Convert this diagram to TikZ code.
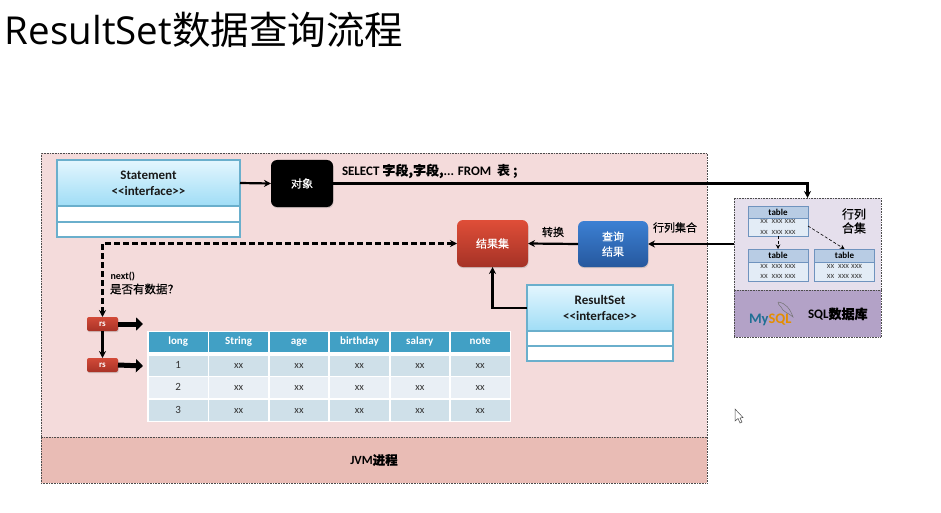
\documentclass[tikz,border=0pt]{standalone}
\usepackage{fontspec}
\setmainfont{Carlito}
\newfontfamily\cjk{Noto Sans CJK SC}
\newfontfamily\cjkm[FakeBold=0.4]{Noto Sans CJK SC}
\newfontfamily\titlefont{Open Sans}
\usetikzlibrary{arrows.meta,shadows}

\definecolor{pinkbg}{HTML}{F4DBDB}
\definecolor{jvmbg}{HTML}{E9BCB5}
\definecolor{ifaceline}{HTML}{6AAFCC}
\definecolor{ifacetop}{HTML}{E4F6FE}
\definecolor{ifacebot}{HTML}{9FDDF6}
\definecolor{tblhead}{HTML}{41A0C5}
\definecolor{tblodd}{HTML}{CFE0E9}
\definecolor{tbleven}{HTML}{E9EFF5}
\definecolor{minihead}{HTML}{B8CCE4}
\definecolor{minibody}{HTML}{E3ECF6}
\definecolor{miniline}{HTML}{6F93BE}
\definecolor{dbtop}{HTML}{E5DFEC}
\definecolor{dbbot}{HTML}{B3A2C7}
\definecolor{rstop}{HTML}{D24A38}
\definecolor{rsbot}{HTML}{A83226}
\definecolor{restop}{HTML}{DF4E38}
\definecolor{resbot}{HTML}{A53226}
\definecolor{qrytop}{HTML}{3C80D3}
\definecolor{qrybot}{HTML}{26589E}

\newcommand{\ifacetag}{\textless\kern0pt\textless\kern0pt interface\textgreater\kern0pt\textgreater}

\tikzset{
    box/.style={inner sep=0pt, outer sep=0pt, align=center},
    softshadow/.style={drop shadow={shadow xshift=0.6pt, shadow yshift=-1.2pt, opacity=0.3}},
    region/.style={box, draw=black!70, densely dotted, line width=0.6pt, minimum width=666pt},
    ifacehead/.style={box, softshadow, draw=ifaceline, line width=1.3pt, top color=ifacetop, bottom color=ifacebot,
        font=\bfseries\fontsize{13}{16}\selectfont, text=black!90},
    ifacerow/.style={box, softshadow, draw=ifaceline, line width=1.3pt, fill=white},
    flow/.style={box, softshadow, rounded corners=6pt, text=white, font=\cjkm\fontsize{11}{15}\selectfont},
    rsbox/.style={box, softshadow, rounded corners=2pt, minimum width=31pt, minimum height=14pt, top color=rstop, bottom color=rsbot,
        text=white, font=\bfseries\fontsize{9}{9}\selectfont},
    label/.style={box, font=\cjkm\fontsize{11}{14}\selectfont, text=black},
    cell/.style={box, minimum width=58.6pt, text=black!80, text height=7pt, text depth=2pt},
    mini/.style={box, softshadow, draw=miniline, line width=0.7pt, minimum width=60pt, font=\fontsize{8.5}{10.5}\selectfont, text=black!75},
    minititle/.style={mini, fill=minihead, font=\bfseries\fontsize{9}{10}\selectfont, text=black},
    flowline/.style={line width=2.2pt, -{Stealth[length=7pt,width=7pt]}},
    fatline/.style={line width=5pt, -{Triangle[length=7pt,width=13pt]}},
    miniflow/.style={densely dashed, line width=0.6pt, -{Stealth[length=4.5pt,width=4.5pt]}}
}

\begin{document}
\begin{tikzpicture}[x=1pt,y=-1pt]

    % Page size
    \useasboundingbox[fill=white] (0,0) rectangle (941,513);

    % Title
    \node[box, anchor=west] (title) at (5,30) {\fontsize{38.5}{44}\selectfont{\titlefont ResultSet}{\cjk 数据查询流程}};

    % JVM process area
    \node[region, fill=pinkbg, minimum height=284pt] (jvmarea) at (374,295) {};
    \node[region, fill=jvmbg, minimum height=46pt, font=\bfseries\fontsize{12.5}{14}\selectfont] (jvm) at (374,460) {JVM{\cjkm 进程}};

    % Statement interface
    \node[ifacerow, minimum width=183pt, minimum height=15pt] (stmtB) at (148.5,229.5) {};
    \node[ifacerow, minimum width=183pt, minimum height=16pt] (stmtA) at (148.5,214) {};
    \node[ifacehead, minimum width=183pt, minimum height=46pt] (stmt) at (148.5,183) {Statement\\\ifacetag};

    % ResultSet interface
    \node[ifacerow, minimum width=146pt, minimum height=15pt] (rsiB) at (600,353.5) {};
    \node[ifacerow, minimum width=146pt, minimum height=15pt] (rsiA) at (600,338.5) {};
    \node[ifacehead, minimum width=146pt, minimum height=46pt] (rsi) at (600,308) {ResultSet\\\ifacetag};

    % Flow boxes
    \node[flow, fill=black, minimum width=62pt, minimum height=47pt] (obj) at (302,183.5) {对象};
    \node[flow, top color=restop, bottom color=resbot, minimum width=71pt, minimum height=47pt] (results) at (492.5,243.5) {结果集};
    \node[flow, top color=qrytop, bottom color=qrybot, minimum width=70pt, minimum height=46pt] (query) at (613,244) {查询\\结果};

    % Database
    \node[box, draw=black!70, densely dotted, line width=0.6pt, fill=dbtop, minimum width=147pt, minimum height=92pt] (dbA) at (807.5,244) {};
    \node[box, draw=black!70, densely dotted, line width=0.6pt, fill=dbbot, minimum width=147pt, minimum height=47pt] (dbB) at (807.5,313.5) {};

    % Tables in the database
    \node[minititle, minimum height=12pt] (miniA) at (778,212) {table};
    \node[mini, fill=minibody, minimum height=18pt, anchor=north] (miniAb) at (miniA.south) {xx\ \ xxx xxx\\xx\ \ xxx xxx};
    \node[minititle, minimum height=13pt] (miniB) at (778,255.5) {table};
    \node[mini, fill=minibody, minimum height=19pt, anchor=north] (miniBb) at (miniB.south) {xx\ \ xxx xxx\\xx\ \ xxx xxx};
    \node[minititle, minimum height=13pt] (miniC) at (844.5,255.5) {table};
    \node[mini, fill=minibody, minimum height=19pt, anchor=north] (miniCb) at (miniC.south) {xx\ \ xxx xxx\\xx\ \ xxx xxx};
    \coordinate (miniAr) at (808,226);
    \draw[miniflow] (miniAb.south) -- (miniB.north);
    \draw[miniflow] (miniAr) -- (miniC.north);
    \node[label, font=\cjkm\fontsize{12}{14}\selectfont] (rowcols) at (854,221) {行列\\合集};

    % MySQL logo
    \node[box, anchor=west, font=\bfseries\fontsize{14.5}{14}\selectfont] (mysql) at (749,320) {\textcolor[HTML]{1F6F94}{My}\textcolor[HTML]{E48E00}{SQL}};
    \draw[line width=0.5pt, draw=black!55] (778,302) .. controls (786,303) and (790,309) .. (793,317) .. controls (787,312) and (783,312) .. (781,307) .. controls (779,305) and (778,304) .. (778,302);
    \node[box, anchor=west, font=\bfseries\fontsize{13}{14}\selectfont] (sqldb) at (808,314) {SQL{\cjkm 数据库}};

    % Connectors
    \draw[flowline] (stmt.east) -- (obj.west);
    \draw[flowline] (obj.east) -| (dbA.north);
    \draw[flowline] (query.east -| dbA.west) -- (query.east);
    \draw[flowline] (query.west) -- (results.east);
    \draw[flowline] (rsi.west) -| (results.south);

    % Cursor nodes
    \node[rsbox] (rsA) at (102.5,324) {rs};
    \node[rsbox] (rsB) at (102.5,365) {rs};
    \coordinate (rsAend) at (143,324);
    \coordinate (rsBend) at (143,366);
    \draw[line width=2.5pt, dash pattern=on 6pt off 3pt, {Stealth[length=7pt,width=7pt]}-{Stealth[length=7pt,width=7pt]}] (rsA.north) |- (results.west);
    \draw[flowline] (rsA.south) -- (rsB.north);
    \draw[fatline] (rsA.east) -- (rsAend);
    \draw[fatline] (rsB.east) -- (rsBend);

    % Labels
    \node[box, anchor=west, font=\bfseries\fontsize{13}{14}\selectfont] (sql) at (342,171) {SELECT {\cjkm 字段,字段,}... FROM {\cjk\ 表 ;}};
    \node[label] (conv) at (553,232) {转换};
    \node[label] (rowset) at (675,227.5) {行列集合};
    \node[box, anchor=west, font=\bfseries\fontsize{10}{10}\selectfont] (next) at (110.5,277) {next()};
    \node[label, anchor=west, font=\cjkm\fontsize{11.5}{14}\selectfont] (hasdata) at (110,289) {是否有数据？};

    % Result table
    \node[box, fill=white, minimum width=364pt, minimum height=91pt] (tbl) at (329,376.5) {};
    \foreach \i/\name in {0/long,1/String,2/age,3/birthday,4/salary,5/note} {
        \node[cell, fill=tblhead, minimum height=20pt, text=white, font=\bfseries\fontsize{11}{12}\selectfont] (head\i) at (178.2+60.4*\i,342) {\name};
    }
    \foreach \r/\y/\h/\col in {1/366/20/tblodd,2/387.5/21/tbleven,3/410.5/21/tblodd} {
        \node[cell, fill=\col, minimum height=\h pt, font=\fontsize{11}{12}\selectfont] (row\r-0) at (178.2,\y) {\r};
        \foreach \i in {1,...,5} {
            \node[cell, fill=\col, minimum height=\h pt, font=\fontsize{10.5}{12}\selectfont] (row\r-\i) at (178.2+60.4*\i,\y) {xx};
        }
    }

    % Mouse pointer
    \draw[line width=0.5pt, draw=black!70, fill=white] (735,409) -- (735,421) -- (738,418.5) -- (740,423) -- (742,422) -- (740,418) -- (743,417.5) -- cycle;

\end{tikzpicture}
\end{document}
